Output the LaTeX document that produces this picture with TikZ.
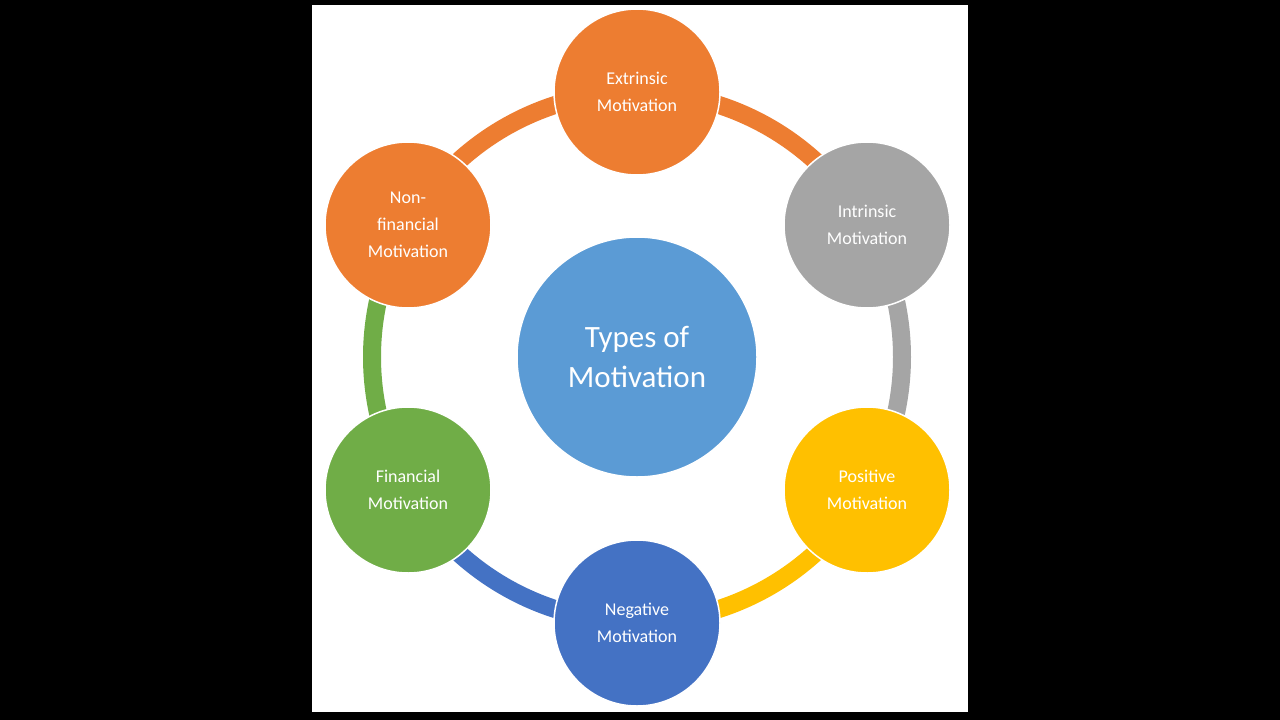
\documentclass[tikz,border=0pt]{standalone}
\usepackage{fontspec}
\setmainfont{Carlito}
\definecolor{cor}{HTML}{ED7D31}
\definecolor{cgr}{HTML}{A5A5A5}
\definecolor{cye}{HTML}{FFC000}
\definecolor{cbl}{HTML}{4472C4}
\definecolor{cgn}{HTML}{70AD47}
\definecolor{cce}{HTML}{5B9BD5}
\begin{document}
\begin{tikzpicture}[x=1pt,y=-1pt,
  outer/.style={circle,minimum size=166pt,inner sep=0pt,draw=white,line width=1.5pt,text=white,font=\fontsize{18}{27}\selectfont,align=center},
  ring/.style={line width=18pt}]
\fill[black] (0,0) rectangle (1280,720);
\fill[white] (312,5) rectangle (968,712);
\coordinate (c) at (637,357);
\foreach \a/\col in {90/cor,30/cgr,-30/cye,-90/cbl,-150/cgn,150/cor}
  \draw[ring,\col] ([shift={(\a:265 and -265)}]c) arc[start angle=-\a,end angle=-\a+60,radius=265];
\node[circle,minimum size=240pt,inner sep=0pt,fill=cce,draw=white,line width=1.5pt,text=white,font=\fontsize{31}{40}\selectfont,align=center] (center) at (c) {Types of\\Motivation};
\node[outer,fill=cor] (ext) at (637,92) {Extrinsic\\Motivation};
\node[outer,fill=cgr] (int) at (867,225) {Intrinsic\\Motivation};
\node[outer,fill=cye] (pos) at (867,490) {Positive\\Motivation};
\node[outer,fill=cbl] (neg) at (637,623) {Negative\\Motivation};
\node[outer,fill=cgn] (fin) at (408,490) {Financial\\Motivation};
\node[outer,fill=cor] (non) at (408,225) {Non-\\financial\\Motivation};
\end{tikzpicture}
\end{document}
